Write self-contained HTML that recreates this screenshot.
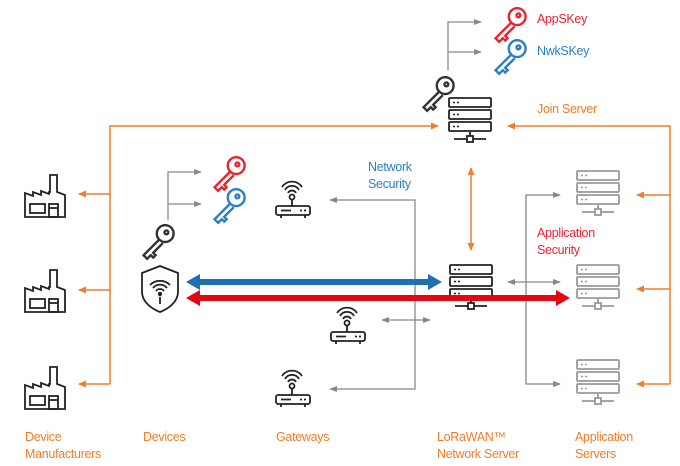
<!DOCTYPE html>
<html><head><meta charset="utf-8"><style>
html,body{margin:0;padding:0;background:#fff;width:680px;height:466px;overflow:hidden}
text{font-family:"Liberation Sans Narrow","Liberation Sans",sans-serif;font-size:12.5px;letter-spacing:-0.3px}
.o{fill:#f07d28}.b{fill:#2a7fc4}.r{fill:#e8222e}
</style></head><body>
<svg width="680" height="466" viewBox="0 0 680 466" xmlns="http://www.w3.org/2000/svg">
<defs>
<marker id="ao" markerWidth="8" markerHeight="8" refX="7" refY="4" orient="auto-start-reverse" markerUnits="userSpaceOnUse"><path d="M0,0.5 L8,4 L0,7.5 Z" fill="#f07d28"/></marker>
<marker id="ag" markerWidth="8" markerHeight="8" refX="7" refY="4" orient="auto-start-reverse" markerUnits="userSpaceOnUse"><path d="M0,1 L8,4 L0,7 Z" fill="#888"/></marker>
<g id="srv" fill="#fff" stroke-width="1.8">
<rect x="1" y="1" width="42" height="9" rx="1"/><rect x="1" y="13" width="42" height="9" rx="1"/><rect x="1" y="25" width="42" height="9" rx="1"/>
<line x1="22" y1="35" x2="22" y2="40"/><line x1="6" y1="42" x2="38" y2="42"/><rect x="19" y="39" width="6" height="6"/>
<path d="M5,5.5h2M9,5.5h2M5,17.5h2M9,17.5h2M5,29.5h2M9,29.5h2" stroke-width="1.5"/>
</g>
<g id="fac" fill="none" stroke="#222" stroke-width="1.8">
<path d="M1,42 V18 L9,21 V17 L17,20 V16 L25,19 V17 L26,17 V0 H33 V17 L41,20 V42 Z"/>
<rect x="6" y="29" width="15" height="9"/><rect x="25" y="29" width="9" height="13"/><line x1="25" y1="33" x2="34" y2="33"/>
</g>
<g id="gw" fill="none" stroke="#222" stroke-width="1.8">
<path d="M7,6 A12,12 0 0 1 27,6 M10,9 A8,8 0 0 1 24,9 M13,12 A4.5,4.5 0 0 1 21,12"/>
<circle cx="17" cy="16" r="2.5"/><line x1="17" y1="18.5" x2="17" y2="25"/>
<rect x="1" y="25" width="34" height="9" rx="2"/><path d="M6,29.5h10M25,29.5h2M29,29.5h2M6,34v3M30,34v3"/>
</g>
<g id="key" fill="none" stroke-width="2">
<circle cx="21" cy="8" r="7"/><circle cx="22" cy="7" r="1.6"/>
<path d="M16,13 L3,26 L6,29 L9,26 L11,28 L13,26 L11,24 L19,16"/>
</g>
</defs>

<g stroke="#f07d28" stroke-width="1.5" fill="none">
<path d="M110,384 V126 H438" marker-end="url(#ao)"/>
<line x1="110" y1="194" x2="79" y2="194" marker-end="url(#ao)"/>
<line x1="110" y1="290" x2="79" y2="290" marker-end="url(#ao)"/>
<line x1="110" y1="384" x2="79" y2="384" marker-end="url(#ao)"/>
<path d="M670,384 V126 H508" marker-end="url(#ao)"/>
<line x1="670" y1="195" x2="637" y2="195" marker-end="url(#ao)"/>
<line x1="670" y1="289" x2="637" y2="289" marker-end="url(#ao)"/>
<line x1="670" y1="384" x2="637" y2="384" marker-end="url(#ao)"/>
<line x1="471" y1="168" x2="471" y2="250" marker-start="url(#ao)" marker-end="url(#ao)"/>
</g>

<g stroke="#888" stroke-width="1.3" fill="none">
<path d="M448,70 V22 H481" marker-end="url(#ag)"/>
<line x1="448" y1="52" x2="481" y2="52" marker-end="url(#ag)"/>
<path d="M168,220 V172 H201" marker-end="url(#ag)"/>
<line x1="168" y1="204" x2="201" y2="204" marker-end="url(#ag)"/>
<path d="M330,200 H415 V389 H330" marker-start="url(#ag)" marker-end="url(#ag)"/>
<line x1="382" y1="320" x2="430" y2="320" marker-start="url(#ag)" marker-end="url(#ag)"/>
<line x1="508" y1="282" x2="560" y2="282" marker-start="url(#ag)" marker-end="url(#ag)"/>
<path d="M560,195 H526 V384 H560" marker-start="url(#ag)" marker-end="url(#ag)"/>
</g>

<use href="#srv" x="448" y="97" stroke="#222"/>
<use href="#srv" x="449" y="264" stroke="#222"/>
<use href="#srv" x="576" y="170" stroke="#999"/>
<use href="#srv" x="576" y="264" stroke="#999"/>
<use href="#srv" x="576" y="359" stroke="#999"/>

<line x1="198" y1="282" x2="430" y2="282" stroke="#1f6fb5" stroke-width="6"/>
<path d="M186,282 L200,274 L200,290 Z M442,282 L428,274 L428,290 Z" fill="#1f6fb5"/>
<line x1="198" y1="298" x2="556" y2="298" stroke="#e30613" stroke-width="6"/>
<path d="M186,298 L200,290 L200,306 Z M570,298 L556,290 L556,306 Z" fill="#e30613"/>

<use href="#fac" x="24" y="175"/>
<use href="#fac" x="24" y="270"/>
<use href="#fac" x="24" y="367"/>

<use href="#gw" x="275" y="181"/>
<use href="#gw" x="330" y="307"/>
<use href="#gw" x="275" y="370"/>

<g transform="translate(492,7) scale(1.2)"><use href="#key" stroke="#e8222e"/></g>
<g transform="translate(492,39) scale(1.2)"><use href="#key" stroke="#2a7fc4"/></g>
<g transform="translate(420,76) scale(1.2)"><use href="#key" stroke="#333"/></g>
<g transform="translate(211,156) scale(1.2)"><use href="#key" stroke="#e8222e"/></g>
<g transform="translate(211,188) scale(1.2)"><use href="#key" stroke="#2a7fc4"/></g>
<g transform="translate(140,224) scale(1.2)"><use href="#key" stroke="#333"/></g>

<g fill="none" stroke="#222" stroke-width="1.8">
<path d="M160,266 L178,273 V292 C178,302 168,309 160,312 C152,309 142,302 142,292 V273 Z"/>
<path d="M150,285 A14,14 0 0 1 170,285 M153,288 A9,9 0 0 1 167,288 M156,291 A5,5 0 0 1 164,291"/>
<circle cx="160" cy="294" r="1.3" fill="#222"/><line x1="160" y1="297" x2="160" y2="304"/>
</g>

<text x="537" y="23" class="r">AppSKey</text>
<text x="537" y="55" class="b">NwkSKey</text>
<text x="537" y="113" class="o">Join Server</text>
<text x="368" y="171" class="b">Network</text>
<text x="368" y="188" class="b">Security</text>
<text x="537" y="237" class="r">Application</text>
<text x="537" y="254" class="r">Security</text>
<text x="25" y="441" class="o">Device</text>
<text x="25" y="458" class="o">Manufacturers</text>
<text x="143" y="441" class="o">Devices</text>
<text x="276" y="441" class="o">Gateways</text>
<text x="437" y="441" class="o">LoRaWAN™</text>
<text x="437" y="458" class="o">Network Server</text>
<text x="575" y="441" class="o">Application</text>
<text x="575" y="458" class="o">Servers</text>
</svg>
</body></html>
